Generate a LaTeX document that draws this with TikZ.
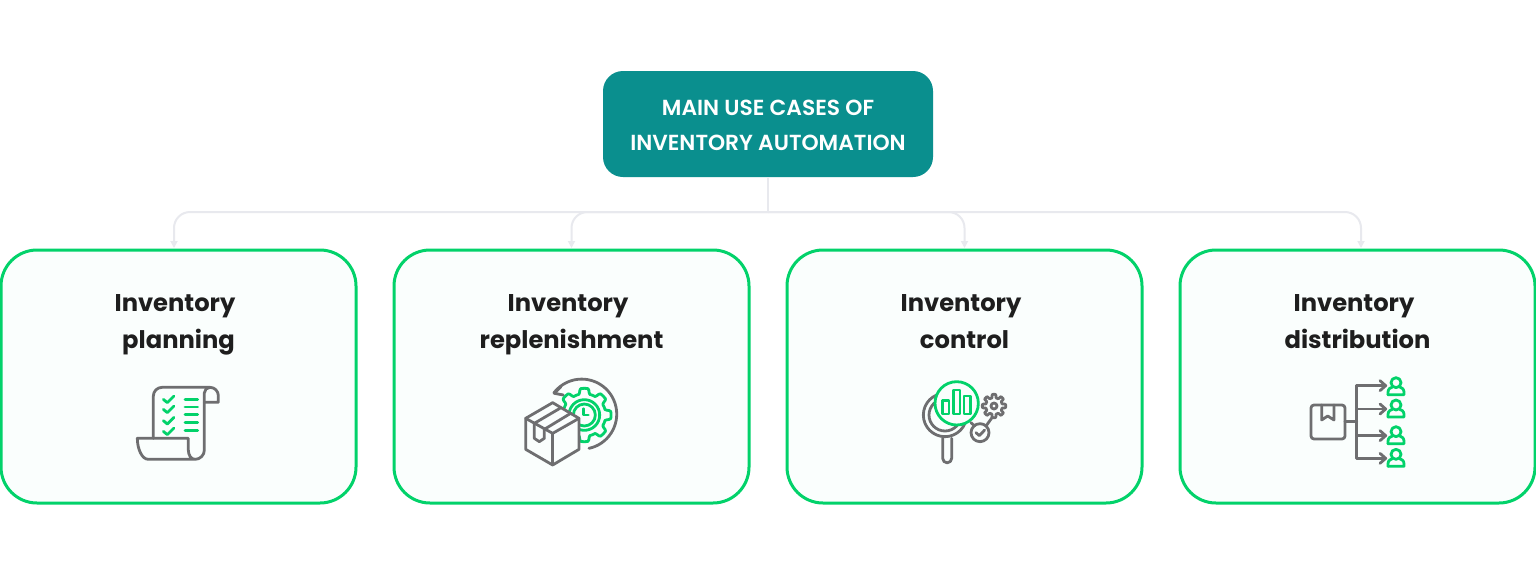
\documentclass[tikz,border=0pt]{standalone}
\usepackage{fontspec}
\setmainfont{Poppins}[BoldFont={Poppins SemiBold}]
\newfontfamily\cardfont{Poppins Bold}
\definecolor{teal1}{HTML}{0A8F8E}
\definecolor{grn}{HTML}{02D26A}
\definecolor{bgc}{HTML}{FAFEFD}
\definecolor{conn}{HTML}{E8E9EE}
\definecolor{ink}{HTML}{1E1E1E}
\definecolor{gry}{HTML}{6E6E70}
\usetikzlibrary{arrows.meta}
\tikzset{
 card/.style={draw=grn,line width=3pt,fill=bgc,rounded corners=36pt,minimum width=355pt,minimum height=253pt,outer sep=0pt},
 headbox/.style={fill=teal1,rounded corners=20pt,minimum width=330pt,minimum height=106pt,outer sep=0pt},
 headtext/.style={text=white,align=center,font=\fontsize{21.8}{35}\selectfont\bfseries},
 cardtext/.style={text=ink,align=center,text height=18pt,text depth=7pt,font=\fontsize{24.2}{37}\selectfont\cardfont},
 link/.style={draw=conn,line width=2pt},
 linkarrow/.style={link,rounded corners=16pt,-{Triangle[length=7pt,width=7pt]}},
 ig/.style={draw=gry,line width=2.8pt,line cap=round,line join=round},
 ic/.style={draw=grn,line width=2.8pt,line cap=round,line join=round},
 iconbox/.style={shift={#1},x=0.33333pt,y=-0.33333pt}
}
\begin{document}
\begin{tikzpicture}[x=1pt,y=-1pt]
\useasboundingbox (0,0) rectangle (1536,576);
\fill[white] (0,0) rectangle (1536,576);
\node[headbox] (top) at (768,124) {};
\node[headtext] (toptext) at (768,125) {MAIN USE CASES OF\\INVENTORY AUTOMATION};
\node[card] (b1) at (178.5,376.5) {};
\node[card] (b2) at (571.5,376.5) {};
\node[card] (b3) at (964.5,376.5) {};
\node[card] (b4) at (1357.5,376.5) {};
\node[cardtext] (t1) at (178.5,343) {Inventory\kern7pt\\planning};
\node[cardtext] (t2) at (571.5,343) {Inventory\kern7pt\\replenishment};
\node[cardtext] (t3) at (964.5,343) {Inventory\kern7pt\\control};
\node[cardtext] (t4) at (1357.5,343) {Inventory\kern7pt\\distribution};
\coordinate (bus) at (768,212);
\draw[link] (top.south) -- (bus);
\draw[linkarrow] (bus) -| ([xshift=-4.5pt,yshift=2pt]b1.north);
\draw[linkarrow] (bus) -| ([yshift=2pt]b2.north);
\draw[linkarrow] (bus) -| ([yshift=2pt]b3.north);
\draw[linkarrow] (bus) -| ([xshift=3.5pt,yshift=2pt]b4.north);
% icon 1
\begin{scope}[iconbox={(110,370)}]
\draw[ig] (130,205) -- (130,78) arc[start angle=180,end angle=270,radius=26] -- (300,52) arc[start angle=270,end angle=360,radius=25] -- (325,97) -- (283,97);
\draw[ig] (300,52) arc[start angle=270,end angle=180,radius=17] -- (283,240) arc[start angle=0,end angle=90,radius=28] -- (115,268) .. controls (95,268) and (82,235) .. (82,205) -- (235,205) -- (235,240) .. controls (235,255) and (243,268) .. (255,268);
\foreach \yy in {90,120,154,186}{\draw[ic] (160,\yy-2) -- (172,\yy+8) -- (192,\yy-12);}
\foreach \yy in {88,111,134,157,181}{\draw[ic] (225,\yy) -- (263,\yy);}
\end{scope}
% icon 2
\begin{scope}[iconbox={(505,370)}]
\draw[ig] (252,235) arc[start angle=78,end angle=-143,radius=105];
\draw[ig] (168,50) -- (148,70) -- (175,75);
\draw[ic,smooth] plot[domain=0:360,samples=145] ({238+(72+8*max(min(3*cos(8*\x),1),-1))*cos(\x)},{135+(72+8*max(min(3*cos(8*\x),1),-1))*sin(\x)});
\draw[ic] (238,135) circle[radius=46];
\draw[ic] (238,135) circle[radius=33];
\draw[ic] (235,116) -- (235,135) -- (250,135);
\draw[ig,fill=bgc] (62,145) -- (143,98) -- (222,145) -- (222,238) -- (143,285) -- (62,238) -- cycle;
\draw[ig] (62,145) -- (143,190) -- (222,145);
\draw[ig] (143,190) -- (143,285);
\draw[ig] (168,113) -- (88,160) -- (88,205) -- (103,215) -- (118,205) -- (118,178) -- (197,130);
\end{scope}
% icon 3
\begin{scope}[iconbox={(900,370)}]
\draw[ig] (135,135) circle[radius=65];
\draw[ig] (135,135) circle[radius=48];
\draw[ig] (128,205) -- (128,265) arc[start angle=180,end angle=0,radius=13.5] -- (155,205);
\draw[ic,fill=bgc] (170,100) circle[radius=65];
\draw[ic] (127,132) -- (127,92) -- (147,92) -- (147,132) -- cycle;
\draw[ic] (160,132) -- (160,60) -- (180,60) -- (180,132) -- cycle;
\draw[ic] (192,132) -- (192,78) -- (212,78) -- (212,132) -- cycle;
\draw[ig,smooth] plot[domain=0:360,samples=145] ({282+(30+5*max(min(3*cos(8*\x),1),-1))*cos(\x)},{108+(30+5*max(min(3*cos(8*\x),1),-1))*sin(\x)});
\draw[ig] (282,108) circle[radius=9];
\draw[ig] (240,188) circle[radius=27];
\draw[ig] (228,188) -- (238,197) -- (254,180);
\draw[ig] (213,158) -- (224,168);
\draw[ig] (258,168) -- (276,143);
\end{scope}
% icon 4
\begin{scope}[iconbox={(1295,370)}]
\draw[ig,rounded corners=3pt] (48,105) rectangle (150,207);
\draw[ig] (80,105) -- (80,150) -- (98,138) -- (117,150) -- (117,105);
\draw[ig] (150,155) -- (185,155);
\draw[ig] (272,47) -- (185,47) -- (185,265) -- (272,265);
\draw[ig] (185,117) -- (272,117);
\draw[ig] (185,197) -- (272,197);
\foreach \yy in {47,117,197,265}{\draw[ig] (255,\yy-15) -- (272,\yy) -- (255,\yy+15);}
\foreach \yy in {38,105,185,253}{
 \draw[ic] (303,\yy) circle[radius=15];
 \draw[ic] (279,\yy+36) -- (327,\yy+36) -- (327,\yy+28) .. controls (327,\yy+18) and (318,\yy+14) .. (314,\yy+13);
 \draw[ic] (279,\yy+36) -- (279,\yy+28) .. controls (279,\yy+18) and (288,\yy+14) .. (292,\yy+13);
}
\end{scope}
\end{tikzpicture}
\end{document}
